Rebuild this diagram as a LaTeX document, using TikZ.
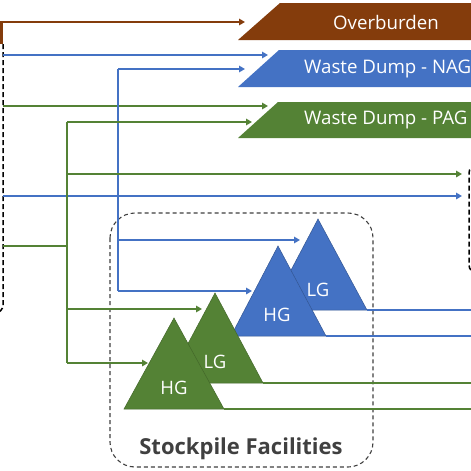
\documentclass[tikz,border=0pt]{standalone}
\usepackage{fontspec}
\setmainfont{Open Sans}
\usetikzlibrary{arrows.meta}
\definecolor{cbrown}{HTML}{843C0C}
\definecolor{cblue}{HTML}{4472C4}
\definecolor{cgreen}{HTML}{548235}
\definecolor{cgrey}{HTML}{404040}
\begin{document}
\begin{tikzpicture}[x=1pt,y=-1pt,
  flow/.style={line width=2.1pt},
  tip/.style={-{Triangle[length=6pt,width=6.5pt]}},
  boxlab/.style={text=white,font=\fontsize{18.7}{20}\selectfont,inner sep=0pt},
  pilelab/.style={text=white,font=\fontsize{18.5}{20}\selectfont,inner sep=0pt},
  groupbox/.style={line width=1.1pt,draw=black,dash pattern=on 4pt off 3pt},
  edgebox/.style={line width=1.5pt,draw=black,dash pattern=on 5pt off 3pt},
  pile/.style={line width=0.5pt}]
\clip (0,0) rectangle (471,471);
\fill[white] (0,0) rectangle (471,471);

% left and right (partly visible) groups
\fill[cbrown] (0,21) rectangle (2.6,44);
\draw[edgebox,rounded corners=8pt] (3,44) -- (3,313) -- (-30,313);
\coordinate (L) at (3,0);
\draw[edgebox,rounded corners=8pt] (500,165) -- (469,165) -- (469,273) -- (500,273);

% destination boxes
\fill[cbrown] (238,40) -- (280,3) -- (480,3) -- (480,40) -- cycle;
\node[boxlab] (ob) at (386,22) {Overburden};
\fill[cblue] (238,87) -- (279,50) -- (480,50) -- (480,87) -- cycle;
\node[boxlab,anchor=west] (nag) at (304,69) {Waste Dump - NAG};
\fill[cgreen] (238,138) -- (278,102) -- (480,102) -- (480,138) -- cycle;
\node[boxlab,anchor=west] (pag) at (304,120) {Waste Dump - PAG};

% stockpile facilities
\draw[groupbox,draw=cgrey,rounded corners=25pt] (110,213) rectangle (373,467);
\node[text=cgrey,font=\bfseries\fontsize{22}{24}\selectfont,inner sep=0pt] (sf) at (241,449) {Stockpile Facilities};

% piles
\fill[cblue,draw=cblue!75!black,pile] (270,310) -- (318,219) -- (367,310) -- cycle;
\draw[cblue,flow] (367,310) -- (480,310);
\node[pilelab] (blg) at (318,290) {LG};
\fill[cblue,draw=cblue!75!black,pile] (231,336) -- (278,246) -- (326,336) -- cycle;
\draw[cblue,flow] (326,336) -- (480,336);
\node[pilelab] (bhg) at (277,315) {HG};
\fill[cgreen,draw=cgreen!80!black,pile] (167,383) -- (215,293) -- (263,383) -- cycle;
\draw[cgreen,flow] (263,383) -- (480,383);
\node[pilelab] (glg) at (215,362) {LG};
\fill[cgreen,draw=cgreen!80!black,pile] (124,409) -- (174,318) -- (224,409) -- cycle;
\draw[cgreen,flow] (224,409) -- (480,409);
\node[pilelab] (ghg) at (174,388) {HG};

% arrow targets
\coordinate (tOB) at (245,22);
\coordinate (tNAG1) at (268,55);
\coordinate (tNAG2) at (245,69);
\coordinate (tPAG1) at (268,106);
\coordinate (tPAG2) at (252,122);
\coordinate (tRG) at (462,174);
\coordinate (tRB) at (462,196);
\coordinate (tBLG) at (300,240);
\coordinate (tBHG) at (252,291);
\coordinate (tGLG) at (202,309);
\coordinate (tGHG) at (148,363);
% junctions
\coordinate (jb1) at (118,69);
\coordinate (jb2) at (118,240);
\coordinate (jb3) at (118,291);
\coordinate (jg1) at (67,122);
\coordinate (jg2) at (67,174);
\coordinate (jg3) at (67,246);
\coordinate (jg4) at (67,309);
\coordinate (jg5) at (67,363);

% connectors
\draw[cbrown,flow,tip] (L |- tOB) -- (tOB);
\draw[cblue,flow,tip] (L |- tNAG1) -- (tNAG1);
\draw[cgreen,flow,tip] (L |- tPAG1) -- (tPAG1);
\draw[cblue,flow,tip] (L |- tRB) -- (tRB);
\draw[cgreen,flow] (L |- jg3) -- (jg3);

\draw[cblue,flow] (jb1) -- (jb3);
\draw[cblue,flow,tip] (jb1) -- (tNAG2);
\draw[cblue,flow,tip] (jb2) -- (tBLG);
\draw[cblue,flow,tip] (jb3) -- (tBHG);

\draw[cgreen,flow] (jg1) -- (jg5);
\draw[cgreen,flow,tip] (jg1) -- (tPAG2);
\draw[cgreen,flow,tip] (jg2) -- (tRG);
\draw[cgreen,flow,tip] (jg4) -- (tGLG);
\draw[cgreen,flow,tip] (jg5) -- (tGHG);
\end{tikzpicture}
\end{document}
